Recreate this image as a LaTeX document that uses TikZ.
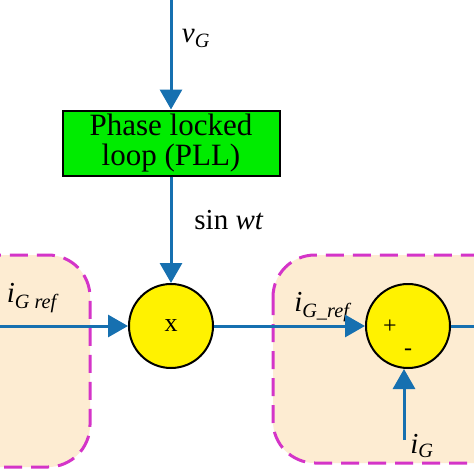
\documentclass[tikz,border=0pt]{standalone}
\usepackage{fontspec}
\setmainfont{Liberation Serif}
\usetikzlibrary{shapes,arrows.meta,positioning}
\definecolor{sigblue}{RGB}{22,112,176}
\definecolor{boxfill}{RGB}{253,236,210}
\definecolor{dashpink}{RGB}{212,52,200}
\definecolor{pllgreen}{RGB}{0,236,0}

\begin{document}
\begin{tikzpicture}[x=1pt,y=-1pt]

\tikzstyle{every node} = [inner sep=0pt, font=\fontsize{29}{29}\selectfont]
\tikzstyle{sig} = [draw=sigblue, line width=3pt, -{Triangle[length=20pt,width=22pt]}]
\tikzstyle{region} = [fill=boxfill, draw=dashpink, line width=3pt, dash pattern=on 18pt off 9pt, rounded corners=42pt]
\tikzstyle{junction} = [circle, draw, line width=2pt, fill=yellow, minimum size=84pt]

\useasboundingbox (0,0) rectangle (474,474);
\clip (0,0) rectangle (474,474);
\fill[white] (0,0) rectangle (474,474);

% shaded regions
\draw[region] (-60,255) rectangle (90,467);
\draw[region] (273,255) rectangle (540,463);

\node[draw, line width=2pt, fill=pllgreen, minimum width=217pt, minimum height=65pt, align=center, font=\fontsize{31}{30}\selectfont] (pll) at (171,143) {Phase locked\\loop (PLL)};
\node[junction] (mult) at (171,326) {\fontsize{26}{26}\selectfont x};
\node[junction] (sum) at (408,326) {};
\node (plus) at (390,327) {\fontsize{24}{24}\selectfont +};
\node (minus) at (408,352) {\fontsize{24}{24}\selectfont -};

\coordinate (vin) at (171,0);
\coordinate (iref) at (0,326);
\coordinate (out) at (474,326);
\coordinate (ig) at (404,440);

\node (vg) at (196,38) {\textit{v}\textsubscript{\textit{G}}};
\node (sinwt) at (229,220) {sin \textit{wt}};
\node (irefl) at (33,298) {\textit{i}\textsubscript{\textit{G ref}}};
\node (irefr) at (323,307) {\textit{i}\textsubscript{\textit{G\_ref}}};
\node (igl) at (422,446) {\textit{i}\textsubscript{\textit{G}}};

\draw[sig] (vin) -- (pll);
\draw[sig] (pll) -- (mult);
\draw[sig] (iref) -- (mult);
\draw[sig] (mult) -- (sum);
\draw[draw=sigblue, line width=3pt] (sum) -- (out);
\draw[sig] (ig) -- (ig |- sum.south);
\end{tikzpicture}
\end{document}
